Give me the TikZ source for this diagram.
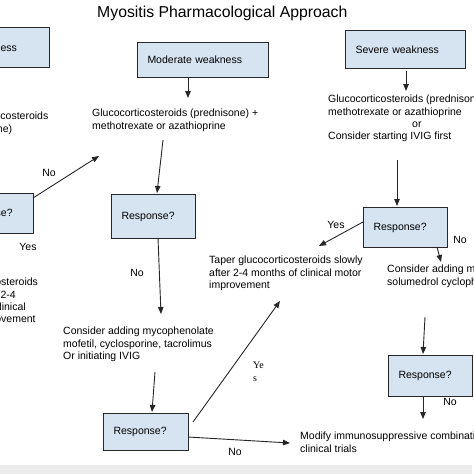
\documentclass[tikz,border=0pt]{standalone}
\usepackage{fontspec}
\setmainfont{Liberation Sans}
\newfontfamily\serifface{Liberation Serif}
\usetikzlibrary{arrows.meta}
\definecolor{boxblue}{RGB}{214,228,242}
\definecolor{boxline}{RGB}{40,40,40}
\definecolor{bandgrey}{RGB}{236,236,236}
\tikzset{
	box/.style={draw=boxline, line width=1pt, fill=boxblue, anchor=north west, inner xsep=10pt, inner ysep=0pt, align=left, font=\fontsize{10.5}{12}\selectfont},
	txt/.style={anchor=north west, inner sep=0pt, align=left, font=\fontsize{10.5}{12.2}\selectfont},
	lbl/.style={inner sep=0pt, font=\fontsize{10.5}{12}\selectfont},
	arr/.style={-{Triangle[length=7pt,width=5.5pt]}, line width=0.9pt, black!85}
}
\begin{document}
\begin{tikzpicture}[x=1pt, y=-1pt]
			%%%%% START %%%%%
			\useasboundingbox (0,0) rectangle (474,474);
			\clip (0,0) rectangle (474,474);
			\fill[bandgrey] (0,465) rectangle (472,474);
			
			\node[anchor=base west, inner sep=0pt, font=\fontsize{15.8}{18}\selectfont] (title) at (97,17.3) {Myositis Pharmacological Approach};
			
			% weakness boxes
			\node[box, minimum width=112pt, minimum height=40pt, text width=92pt] (mild) at (-63,27) {Mild weakness};
			\node[box, minimum width=131pt, minimum height=35pt, text width=111pt] (mod) at (137,42) {Moderate weakness};
			\node[box, minimum width=120pt, minimum height=38pt, text width=100pt] (sev) at (345,30) {Severe weakness};
			
			% response boxes
			\node[box, minimum width=84pt, minimum height=40pt, text width=64pt] (respL) at (-51,193) {Response?};
			\node[box, minimum width=84pt, minimum height=44pt, text width=64pt] (respM) at (111,194) {Response?};
			\node[box, minimum width=84pt, minimum height=40pt, text width=64pt] (respR) at (363,207) {Response?};
			\node[box, minimum width=85pt, minimum height=37pt, text width=65pt] (respB) at (103,413) {Response?};
			\node[box, minimum width=84pt, minimum height=41pt, text width=64pt] (respBR) at (388,355) {Response?};
			
			% treatment texts
			\node[txt] (mildtxt) at (-47,112) {Glucocorticosteroids\\(prednisone)};
			\node[txt] (modtxt) at (92,109) {Glucocorticosteroids (prednisone) +\\methotrexate or azathioprine};
			\node[txt] (sevtxt) at (328,95) {Glucocorticosteroids (prednisone) +\\methotrexate or azathioprine\\\hspace*{84pt}or\\Consider starting IVIG first};
			\node[txt] (taperL) at (-55,278) {glucocorticosteroids\\slowly after 2-4\\months of clinical\\motor improvement};
			\node[txt] (taper) at (209,256) {Taper glucocorticosteroids slowly\\after 2-4 months of clinical motor\\improvement};
			\node[txt] (addR) at (387,265) {Consider adding monthly\\solumedrol cyclophosphamide};
			\node[txt] (addM) at (63,327) {Consider adding mycophenolate\\mofetil, cyclosporine, tacrolimus\\Or initiating IVIG};
			\node[txt] (modify) at (300,432) {Modify immunosuppressive combination or\\clinical trials};
			
			% arrow ends
			\coordinate (m1) at (188,77);   \coordinate (m2) at (188,98);
			\coordinate (s1) at (406,71);   \coordinate (s2) at (406,91);
			\coordinate (mt1) at (163,140); \coordinate (mt2) at (157,193);
			\coordinate (rm1) at (158,238); \coordinate (rm2) at (161,314);
			\coordinate (rl1) at (33,198);  \coordinate (rl2) at (99,156);
			\coordinate (st1) at (397,160); \coordinate (st2) at (397,206);
			\coordinate (ry1) at (363,222); \coordinate (ry2) at (319,246);
			\coordinate (rn1) at (437,247); \coordinate (rn2) at (441,262);
			\coordinate (am1) at (155,372); \coordinate (am2) at (152,412);
			\coordinate (by1) at (193,422); \coordinate (by2) at (280,301);
			\coordinate (bn1) at (188,437); \coordinate (bn2) at (290,443);
			\coordinate (ar1) at (425,317); \coordinate (ar2) at (423,354);
			\coordinate (bb1) at (423,396); \coordinate (bb2) at (423,419);
			
			\draw[arr] (m1) -- (m2);
			\draw[arr] (s1) -- (s2);
			\draw[arr] (mt1) -- (mt2);
			\draw[arr] (rm1) -- (rm2);
			\draw[arr] (rl1) -- (rl2);
			\draw[arr] (st1) -- (st2);
			\draw[arr] (ry1) -- (ry2);
			\draw[arr] (rn1) -- (rn2);
			\draw[arr] (am1) -- (am2);
			\draw[arr] (by1) -- (by2);
			\draw[arr] (bn1) -- (bn2);
			\draw[arr] (ar1) -- (ar2);
			\draw[arr] (bb1) -- (bb2);
			
			% yes / no labels
			\node[lbl] (noL) at (49,173) {No};
			\node[lbl] (yesL) at (28,247) {Yes};
			\node[lbl] (noM) at (137,273) {No};
			\node[lbl] (yesR) at (336,225) {Yes};
			\node[lbl] (noR) at (460,240) {No};
			\node[anchor=north west, inner sep=0pt, align=left, font=\serifface\fontsize{10}{13}\selectfont] (yesB) at (253,362) {Ye\\s};
			\node[lbl] (noB) at (235,452) {No};
			\node[lbl] (noBR) at (450,402) {No};
			
			%%%%% END %%%%%
\end{tikzpicture}
\end{document}
